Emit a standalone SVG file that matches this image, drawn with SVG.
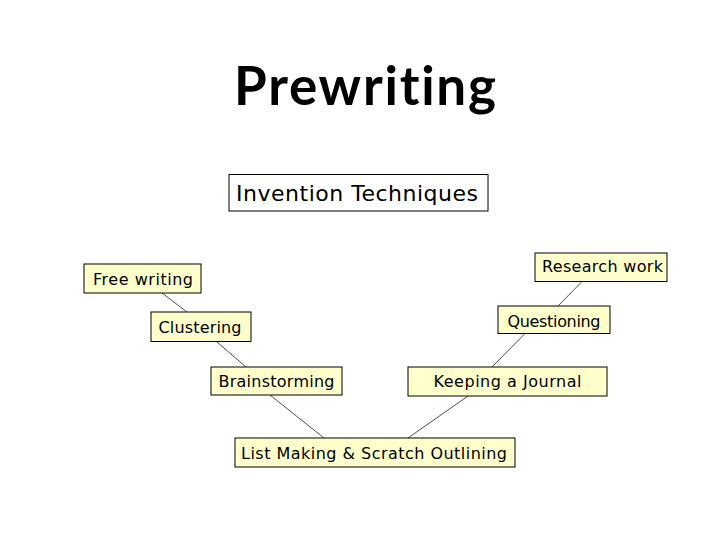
<svg xmlns="http://www.w3.org/2000/svg" width="720" height="540" viewBox="0 0 720 540">
<style>
.box{fill:#FFFFCC;stroke:#000;stroke-width:1}
.inv{fill:#fff;stroke:#000;stroke-width:1}
.t{font-family:"DejaVu Sans","Liberation Sans",sans-serif;font-size:16px;fill:#000;text-anchor:middle}
.ti{font-family:"DejaVu Sans","Liberation Sans",sans-serif;font-size:22px;fill:#000;text-anchor:middle}
.title{font-family:Lato,"Open Sans",sans-serif;font-weight:bold;font-size:53px;fill:#000;text-anchor:middle;font-variant-ligatures:none;font-feature-settings:"liga" 0,"clig" 0}
.c line{stroke:#222;stroke-width:0.8}
</style>
<rect width="720" height="540" fill="#fff"/>
<text id="title" class="title" x="365" y="105" textLength="262">Prewriting</text>
<g class="c" id="connectors">
<line x1="162" y1="293" x2="187" y2="312"/>
<line x1="217" y1="342" x2="246" y2="367"/>
<line x1="270" y1="395" x2="324" y2="438"/>
<line x1="582" y1="281.5" x2="558" y2="306"/>
<line x1="525" y1="333.5" x2="492" y2="367"/>
<line x1="468" y1="396" x2="408" y2="438"/>
</g>
<g id="invention">
<rect class="inv" x="229" y="174.5" width="259" height="36.5"/>
<text class="ti" x="357" y="200.5" textLength="242">Invention Techniques</text>
</g>
<g id="free-writing">
<rect class="box" x="84" y="264" width="117" height="29"/>
<text class="t" x="143" y="284.5" textLength="100">Free writing</text>
</g>
<g id="clustering">
<rect class="box" x="151" y="312" width="100" height="29.5"/>
<text class="t" x="200" y="332.5" textLength="83">Clustering</text>
</g>
<g id="brainstorming">
<rect class="box" x="211" y="367" width="131" height="28"/>
<text class="t" x="276.5" y="386.5" textLength="116">Brainstorming</text>
</g>
<g id="research-work">
<rect class="box" x="535" y="253" width="132" height="28.5"/>
<text class="t" x="602.5" y="272" textLength="121">Research work</text>
</g>
<g id="questioning">
<rect class="box" x="498" y="306" width="112" height="27.5"/>
<text class="t" x="554" y="326.5" textLength="93">Questioning</text>
</g>
<g id="keeping-a-journal">
<rect class="box" x="408" y="367" width="199" height="29"/>
<text class="t" x="507.5" y="386.5" textLength="148">Keeping a Journal</text>
</g>
<g id="list-making">
<rect class="box" x="235" y="438" width="280" height="29"/>
<text class="t" x="374" y="458.5" textLength="266">List Making &amp; Scratch Outlining</text>
</g>
</svg>
